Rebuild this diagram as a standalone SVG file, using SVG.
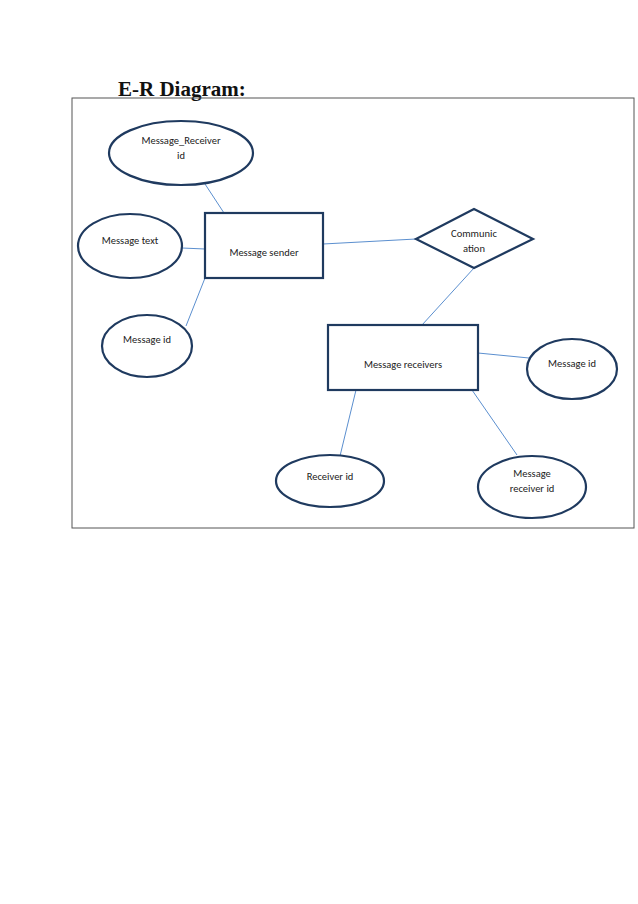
<svg xmlns="http://www.w3.org/2000/svg" width="638" height="904" viewBox="0 0 638 904">
<style>
.n{fill:#fff;stroke:#1f3a5f;stroke-width:2.2}
.t{font-family:Carlito,"Liberation Sans",sans-serif;font-size:10.5px;fill:#222;text-anchor:middle}
.c line{stroke:#5b8fcf;stroke-width:1}
</style>
<rect width="638" height="904" fill="#fff"/>
<text x="118" y="96" font-family="Liberation Serif,serif" font-weight="bold" font-size="21" fill="#111">E-R Diagram:</text>
<rect x="72" y="98" width="562" height="430" fill="none" stroke="#555" stroke-width="1"/>
<g class="c">
<line x1="205" y1="184" x2="224" y2="213"/>
<line x1="182" y1="248" x2="205" y2="249"/>
<line x1="205" y1="278" x2="186" y2="326"/>
<line x1="323" y1="244" x2="416" y2="239"/>
<line x1="474" y1="268" x2="422" y2="325"/>
<line x1="478" y1="353" x2="529" y2="358"/>
<line x1="356" y1="390" x2="340" y2="456"/>
<line x1="472" y1="390" x2="517" y2="455"/>
</g>
<g id="mrid"><ellipse class="n" cx="181" cy="153" rx="72" ry="32"/><text class="t" x="181" y="144">Message_Receiver</text><text class="t" x="181" y="159">id</text></g>
<g id="mtext"><ellipse class="n" cx="130" cy="246" rx="52" ry="32"/><text class="t" x="130" y="244">Message text</text></g>
<g id="mid1"><ellipse class="n" cx="147" cy="346" rx="45" ry="31"/><text class="t" x="147" y="343">Message id</text></g>
<g id="sender"><rect class="n" x="205" y="213" width="118" height="65"/><text class="t" x="264" y="256">Message sender</text></g>
<g id="comm"><polygon class="n" points="416,239 474,209 533,239 474,268"/><text class="t" x="474" y="237">Communic</text><text class="t" x="474" y="252">ation</text></g>
<g id="receivers"><rect class="n" x="328" y="325" width="150" height="65"/><text class="t" x="403" y="368">Message receivers</text></g>
<g id="mid2"><ellipse class="n" cx="572" cy="369" rx="45" ry="30"/><text class="t" x="572" y="367">Message id</text></g>
<g id="rid"><ellipse class="n" cx="330" cy="481" rx="54" ry="26"/><text class="t" x="330" y="480">Receiver id</text></g>
<g id="mrid2"><ellipse class="n" cx="532" cy="487" rx="54" ry="31"/><text class="t" x="532" y="477">Message</text><text class="t" x="532" y="492">receiver id</text></g>
</svg>
